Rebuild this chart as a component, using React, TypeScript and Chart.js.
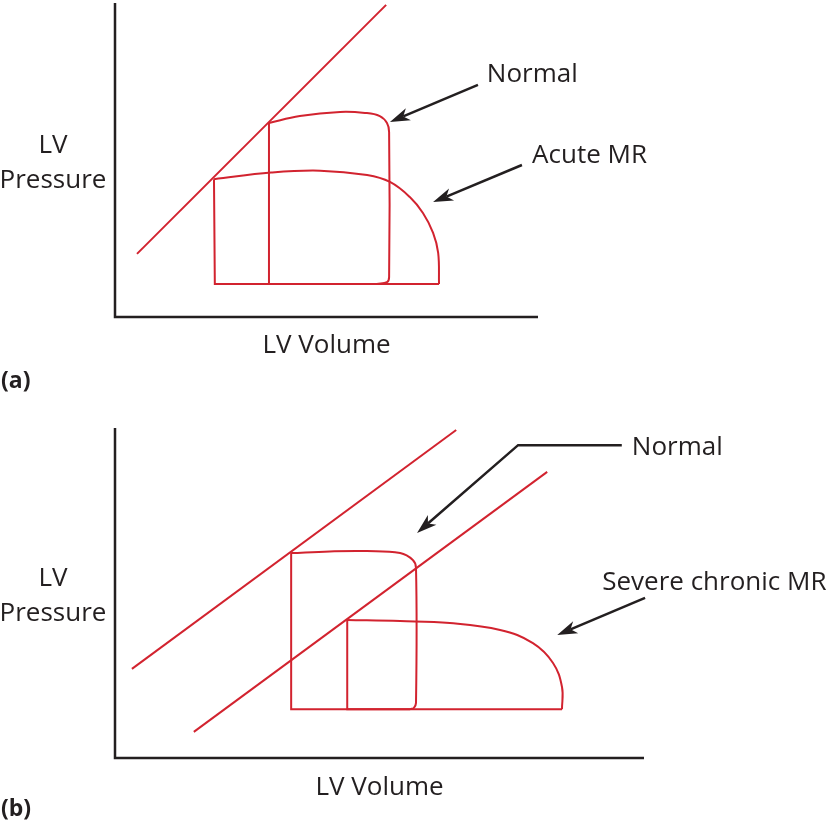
import React, { useEffect, useRef } from "react";
import { Chart, registerables } from "chart.js";
Chart.register(...registerables);

// ---------- Panel (a) data (LV volume, LV pressure; arbitrary units 0-100) ----------
const aEspvr = [[5.2, 20.1], [64.1, 99.4]];
const aNormalCurve = [[36.4, 61.8], [43.7, 64.0], [53.2, 65.3], [59.1, 65.0], [62.6, 64.0], [64.3, 61.8], [64.8, 58.9], [64.8, 12.7], [64.3, 11.1], [61.9, 10.5]];
const aNormalStraight = [[61.9, 10.5], [36.4, 10.5], [36.4, 61.8]];
const aAcuteCurve = [[23.4, 43.9], [36.9, 46.0], [48.5, 46.6], [59.6, 45.2], [65.0, 43.0], [69.7, 38.2], [72.8, 33.1], [75.2, 26.8], [76.4, 20.4], [76.6, 10.5]];
const aAcuteStraight = [[76.6, 10.5], [23.6, 10.5], [23.4, 43.9]];
const aArrowNormal = [[85.8, 73.9], [65.0, 62.1]];
const aArrowAcute = [[96.2, 48.4], [75.2, 36.6]];
const aLabels = ["Normal", "Acute MR"];
const aLabelPos = [[87.9, 74.8], [98.6, 49.0]];

// ---------- Panel (b) data ----------
const bEspvrUpper = [[3.2, 27.0], [64.5, 99.4]];
const bEspvrLower = [[14.9, 7.9], [81.7, 86.7]];
const bNormalCurve = [[33.3, 62.1], [40.6, 62.6], [47.6, 62.7], [53.9, 62.1], [56.3, 60.0], [56.9, 57.6], [56.9, 16.7], [56.5, 15.2], [55.8, 14.8]];
const bNormalStraight = [[55.8, 14.8], [33.3, 14.8], [33.3, 62.1]];
const bSevereCurve = [[43.9, 41.8], [53.9, 41.5], [63.3, 40.9], [72.8, 38.8], [79.0, 34.8], [82.8, 28.8], [84.5, 21.5], [84.5, 14.8]];
const bSevereStraight = [[84.5, 14.8], [43.9, 14.8], [43.9, 41.8]];
const bArrowNormal = [[95.8, 94.8], [76.2, 94.8], [57.1, 68.2]];
const bArrowSevere = [[100.2, 48.5], [83.6, 37.3]];
const bLabels = ["Normal", "Severe chronic MR"];
const bLabelPos = [[97.7, 91.8], [92.1, 50.9]];

const axisPts = [[0, 100], [0, 0], [100, 0]];

const RED = "#d2232f";
const INK = "#231f20";
const FONT = '"Open Sans", "Noto Sans", sans-serif';

const toPts = (a: number[][]) => a.map(([x, y]) => ({ x, y }));

const lineDs = (a: number[][], tension: number, color = RED, width = 2) => ({
  data: toPts(a),
  showLine: true,
  borderColor: color,
  borderWidth: width,
  pointRadius: 0,
  fill: false,
  tension,
  clip: false as any,
  borderJoinStyle: "miter" as const,
  borderCapStyle: "butt" as const,
});

type PanelCfg = {
  name: string;
  height: number;
  top: number;
  padding: { left: number; top: number; right: number; bottom: number };
  datasets: any[];
  arrows: number[][][];
  labels: string[];
  labelPos: number[][];
  panelDy: number;
  volDy: number;
};

const annotate = (cfg: PanelCfg) => ({
  id: "annot",
  afterDatasetsDraw(chart: any) {
    const { ctx, chartArea, scales } = chart;
    const px = (v: number) => scales.x.getPixelForValue(v);
    const py = (v: number) => scales.y.getPixelForValue(v);
    ctx.save();
    // arrows
    ctx.strokeStyle = INK;
    ctx.fillStyle = INK;
    ctx.lineWidth = 2.5;
    ctx.lineJoin = "miter";
    for (const arr of cfg.arrows) {
      const p = arr.map(([x, y]) => [px(x), py(y)]);
      const n = p.length;
      const tip = p[n - 1];
      const prev = p[n - 2];
      const dx = tip[0] - prev[0];
      const dy = tip[1] - prev[1];
      const len = Math.hypot(dx, dy);
      const ux = dx / len, uy = dy / len;
      const nx = -uy, ny = ux;
      const L = 20, W = 6.5, notch = 0.72;
      ctx.beginPath();
      ctx.moveTo(p[0][0], p[0][1]);
      for (let i = 1; i < n - 1; i++) ctx.lineTo(p[i][0], p[i][1]);
      ctx.lineTo(tip[0] - ux * L * notch, tip[1] - uy * L * notch);
      ctx.stroke();
      ctx.beginPath();
      ctx.moveTo(tip[0], tip[1]);
      ctx.lineTo(tip[0] - ux * L + nx * W, tip[1] - uy * L + ny * W);
      ctx.lineTo(tip[0] - ux * L * notch, tip[1] - uy * L * notch);
      ctx.lineTo(tip[0] - ux * L - nx * W, tip[1] - uy * L - ny * W);
      ctx.closePath();
      ctx.fill();
    }
    // labels
    ctx.font = `26px ${FONT}`;
    ctx.textAlign = "left";
    ctx.textBaseline = "alphabetic";
    cfg.labels.forEach((t, i) => {
      ctx.fillText(t, px(cfg.labelPos[i][0]), py(cfg.labelPos[i][1]));
    });
    // axis titles
    const cx = (chartArea.left + chartArea.right) / 2;
    const cy = (chartArea.top + chartArea.bottom) / 2;
    ctx.textAlign = "center";
    ctx.fillText("LV", chartArea.left - 62, cy - 7);
    ctx.fillText("Pressure", chartArea.left - 62, cy + 28);
    ctx.fillText("LV Volume", cx, chartArea.bottom + cfg.volDy);
    // panel tag
    ctx.font = `bold 23px ${FONT}`;
    ctx.textAlign = "left";
    ctx.fillText(cfg.name, 1, chartArea.bottom + cfg.panelDy);
    ctx.restore();
  },
});

const panelA: PanelCfg = {
  name: "(a)",
  height: 400,
  top: 0,
  padding: { left: 115, top: 3, right: 295, bottom: 83 },
  datasets: [
    lineDs(axisPts, 0, INK, 2.5),
    lineDs(aEspvr, 0),
    lineDs(aNormalCurve, 0.4),
    lineDs(aNormalStraight, 0),
    lineDs(aAcuteCurve, 0.4),
    lineDs(aAcuteStraight, 0),
  ],
  arrows: [aArrowNormal, aArrowAcute],
  labels: aLabels,
  labelPos: aLabelPos,
  panelDy: 71,
  volDy: 36,
};

const panelB: PanelCfg = {
  name: "(b)",
  height: 433,
  top: 400,
  padding: { left: 115, top: 28, right: 189, bottom: 75 },
  datasets: [
    lineDs(axisPts, 0, INK, 2.5),
    lineDs(bEspvrUpper, 0),
    lineDs(bEspvrLower, 0),
    lineDs(bNormalCurve, 0.4),
    lineDs(bNormalStraight, 0),
    lineDs(bSevereCurve, 0.4),
    lineDs(bSevereStraight, 0),
  ],
  arrows: [bArrowNormal, bArrowSevere],
  labels: bLabels,
  labelPos: bLabelPos,
  panelDy: 58,
  volDy: 37,
};

function Panel({ cfg }: { cfg: PanelCfg }) {
  const ref = useRef<HTMLCanvasElement>(null);
  useEffect(() => {
    const chart = new Chart(ref.current as HTMLCanvasElement, {
      type: "scatter",
      data: { datasets: cfg.datasets },
      options: {
        responsive: false,
        animation: false,
        devicePixelRatio: 1,
        events: [],
        layout: { padding: cfg.padding },
        plugins: { legend: { display: false }, tooltip: { enabled: false } },
        scales: {
          x: { type: "linear", min: 0, max: 100, display: false },
          y: { type: "linear", min: 0, max: 100, display: false },
        },
      },
      plugins: [annotate(cfg) as any],
    });
    return () => chart.destroy();
  }, []);
  return (
    <canvas
      ref={ref}
      width={833}
      height={cfg.height}
      style={{ position: "absolute", left: 0, top: cfg.top, width: 833, height: cfg.height }}
    />
  );
}

export default function App() {
  return (
    <div style={{ position: "fixed", left: 0, top: 0, width: 833, height: 833, background: "#fff" }}>
      <Panel cfg={panelA} />
      <Panel cfg={panelB} />
    </div>
  );
}
